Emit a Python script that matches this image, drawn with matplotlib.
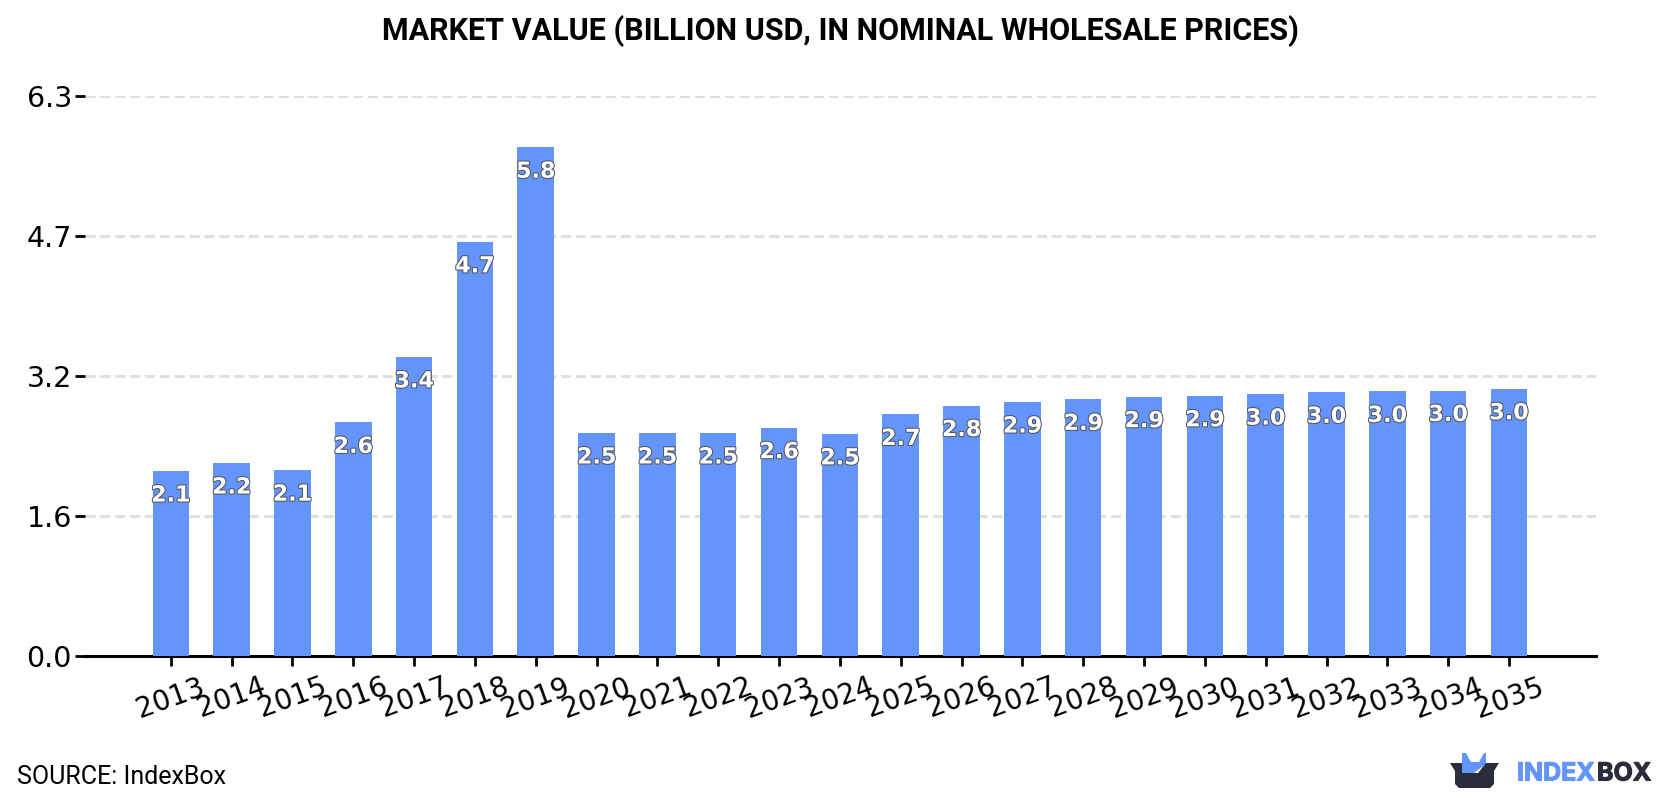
import matplotlib
matplotlib.use('Agg')
import matplotlib.pyplot as plt
import matplotlib.patheffects as pe
from matplotlib.patches import Polygon

years = list(range(2013, 2036))
values = [2.09, 2.18, 2.10, 2.64, 3.38, 4.68, 5.75, 2.52, 2.52, 2.52, 2.58, 2.51,
          2.73, 2.83, 2.87, 2.90, 2.93, 2.94, 2.96, 2.98, 2.99, 3.00, 3.02]
y_ticks = [0, 1.58, 3.165, 4.75, 6.33]
y_tick_labels = ['0.0', '1.6', '3.2', '4.7', '6.3']

BLUE = '#6495ff'
DARK = '#2b2d3a'

fig = plt.figure(figsize=(16.8, 8), dpi=100)
ax = fig.add_axes([85 / 1680, 1 - 656 / 800, (1596 - 85) / 1680, (656 - 96) / 800])

# Bars and the value label inside the top of each one
ax.bar(range(len(years)), values, width=0.6, color=BLUE, zorder=3)
for i, v in enumerate(values):
    ax.annotate(f'{v:.1f}', (i, v), xytext=(0, -17.6), textcoords='offset points',
                ha='center', va='center', fontsize=16, fontweight='bold', color='white',
                zorder=4, path_effects=[pe.withStroke(linewidth=1.5, foreground='#555555')])

ax.set_xlim(-1.41, 23.43)
ax.set_ylim(0, 6.33)
ax.set_yticks(y_ticks)
ax.set_yticklabels(y_tick_labels, fontsize=20.5)
ax.set_xticks(range(len(years)))
ax.set_xticklabels(years, fontsize=20, rotation=20)
ax.tick_params(axis='both', length=7, width=2, color='black')
ax.tick_params(axis='x', pad=5)
ax.tick_params(axis='y', pad=2.5)
ax.grid(axis='y', color='#e0e0e0', linewidth=2.2, linestyle=(0, (3.3, 1.565)), zorder=0)
ax.set_axisbelow(True)
for side in ['left', 'right', 'top']:
    ax.spines[side].set_visible(False)
ax.spines['bottom'].set_linewidth(2.2)

fig.text(840 / 1680, 1 - 31 / 800, 'MARKET VALUE (BILLION USD, IN NOMINAL WHOLESALE PRICES)',
         family='Roboto', fontweight='bold', fontsize=22, ha='center', va='center')
fig.text(17 / 1680, 1 - 777 / 800, 'SOURCE: IndexBox', family='Roboto', fontsize=18,
         ha='left', va='center')

# Logo, laid out in pixel coordinates on a full-figure overlay
logo = fig.add_axes([0, 0, 1, 1])
logo.set_xlim(0, 1680)
logo.set_ylim(800, 0)
logo.axis('off')
logo.patch.set_alpha(0)
logo.add_patch(Polygon([(1462, 764), (1462, 753), (1466, 753), (1471, 762), (1479, 762),
                        (1484, 753), (1486, 753), (1486, 764), (1474, 773), (1462, 773)],
                       closed=True, color=BLUE, lw=0))
logo.add_patch(Polygon([(1450, 763), (1462, 763), (1462, 773), (1478, 773), (1486, 763), (1499, 763),
                        (1494, 771), (1494, 784), (1490, 788), (1459, 788), (1455, 784), (1455, 771)],
                       closed=True, color=DARK, lw=0))
logo.text(1517, 774, 'INDEX', family='Inter', fontweight='bold', fontsize=18, color=BLUE,
          ha='left', va='center', path_effects=[pe.withStroke(linewidth=0.8, foreground=BLUE)])
logo.text(1597, 774, 'BOX', family='Inter', fontweight='bold', fontsize=18, color=DARK,
          ha='left', va='center', path_effects=[pe.withStroke(linewidth=0.8, foreground=DARK)])

fig.savefig('out.png', dpi=100)
